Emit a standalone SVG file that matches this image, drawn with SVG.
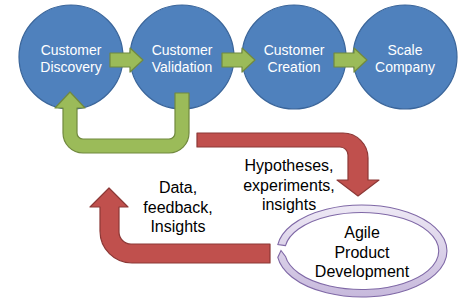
<svg xmlns="http://www.w3.org/2000/svg" width="474" height="306" viewBox="0 0 474 306">
<style>
.circ{fill:#4F81BD;stroke:#3A659A;stroke-width:1.2}
.ctext{font-family:"Liberation Sans",Arial,sans-serif;font-size:14px;fill:#FFFFFF;text-anchor:middle}
.green{fill:#9BBB59;stroke:#71893F;stroke-width:1.2;stroke-linejoin:round}
.red{fill:#C0504D;stroke:#8C3836;stroke-width:1.2;stroke-linejoin:round}
.btext{font-family:"Liberation Sans",Arial,sans-serif;font-size:16px;fill:#000000;text-anchor:middle}
.ring{fill:url(#pg);stroke:#7F68A6;stroke-width:1.1}
</style>
<defs>
<linearGradient id="pg" x1="0" y1="0" x2="0" y2="1">
<stop offset="0" stop-color="#EEE9F5"/>
<stop offset="1" stop-color="#C7B9DC"/>
</linearGradient>
<path id="ga" d="M0,53 L20,53 L20,48 L33,60 L20,72 L20,67 L0,67 Z"/>
</defs>
<g id="node-discovery">
<circle class="circ" cx="71" cy="57" r="52"/>
<text class="ctext" x="71" y="55">Customer</text>
<text class="ctext" x="71" y="72">Discovery</text>
</g>
<g id="node-validation">
<circle class="circ" cx="182" cy="57" r="52"/>
<text class="ctext" x="182" y="55">Customer</text>
<text class="ctext" x="182" y="72">Validation</text>
</g>
<g id="node-creation">
<circle class="circ" cx="294" cy="57" r="52"/>
<text class="ctext" x="294" y="55">Customer</text>
<text class="ctext" x="294" y="72">Creation</text>
</g>
<g id="node-scale">
<circle class="circ" cx="405" cy="57" r="52"/>
<text class="ctext" x="405" y="55">Scale</text>
<text class="ctext" x="405" y="72">Company</text>
</g>
<g id="connectors">
<use href="#ga" class="green" x="110"/>
<use href="#ga" class="green" x="222"/>
<use href="#ga" class="green" x="334"/>
<path class="green" d="M189,93 L189,133 A20 20 0 0 1 169,153 L83,153 A20 20 0 0 1 63,133 L63,108 L55,108 L70,92 L85,108 L77,108 L77,133 A6 6 0 0 0 83,139 L169,139 A6 6 0 0 0 175,133 L175,93 Z"/>
<path class="red" d="M197,133 L343,133 A25 25 0 0 1 368,158 L368,180 L379,180 L358,196 L337,180 L348,180 L348,155 A8 8 0 0 0 340,147 L197,147 Z"/>
<path class="red" d="M270,244 L131,244 A12 12 0 0 1 119,232 L119,207 L128,207 L109,188 L90,207 L100,207 L100,231 A32 32 0 0 0 132,263 L270,263 Z"/>
<text class="btext" x="289" y="171">Hypotheses,</text>
<text class="btext" x="289" y="191">experiments,</text>
<text class="btext" x="289" y="210">insights</text>
<text class="btext" x="178" y="193">Data,</text>
<text class="btext" x="178" y="213">feedback,</text>
<text class="btext" x="178" y="232">Insights</text>
</g>
<g id="node-agile">
<path class="ring" d="M285.5,245.6 L277.8,244.6 A85 46 0 1 1 277.8,257.4 L281,250.5 L285.5,256.4 A77 38.5 0 1 0 285.5,245.6 Z"/>
<text class="btext" x="362" y="238">Agile</text>
<text class="btext" x="362" y="258">Product</text>
<text class="btext" x="362" y="277">Development</text>
</g>
</svg>
